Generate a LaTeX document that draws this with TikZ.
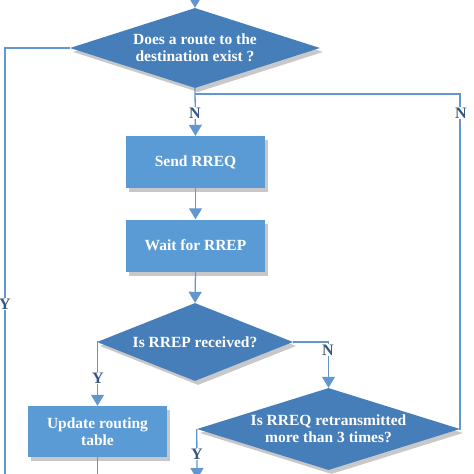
\documentclass[tikz,border=0pt]{standalone}
\usepackage{fontspec}
\setmainfont{Liberation Serif}
\usetikzlibrary{arrows.meta,%
                shapes.geometric}
\definecolor{boxblue}{RGB}{91,155,213}
\definecolor{decblue}{RGB}{70,126,186}
\definecolor{lineblue}{RGB}{98,150,206}
\definecolor{lblblue}{RGB}{55,85,130}
\definecolor{dotgray}{RGB}{200,200,200}

\begin{document}
\begin{tikzpicture}
  [x=1pt,y=-1pt,font=\bfseries\fontsize{15.5}{17}\selectfont,
   castshadow/.style={preaction={fill=dotgray,transform canvas={xshift=3pt,yshift=-4pt}}},
   procbox/.style={rectangle,fill=boxblue,text=white,align=center,
                   minimum width=139pt,minimum height=52pt,castshadow},
   decision/.style={diamond,fill=decblue,text=white,align=center,inner sep=0pt,castshadow},
   link/.style={draw=lineblue,line width=1.3pt},
   flow/.style={link,-{Triangle[width=13pt,length=11pt]}},
   tag/.style={fill=white,text=lblblue,inner sep=1pt,font=\bfseries\fontsize{16}{16}\selectfont}]
  \useasboundingbox (0,0) rectangle (474,474);
  \node[decision,minimum width=250pt,minimum height=80pt,shape aspect=3.1] (route) at (195,48)
    {Does a route to the\\destination exist ?};
  \node[procbox] (send) at (195.5,162) {Send RREQ};
  \node[procbox] (wait) at (195.5,245.5) {Wait for RREP};
  \node[decision,minimum width=196pt,minimum height=78pt,shape aspect=2.5] (recv) at (195,342)
    {Is RREP received?};
  \node[procbox,minimum height=51pt] (update) at (97.5,431.5) {Update routing\\table};
  \node[decision,minimum width=263pt,minimum height=82pt,shape aspect=3.2] (retry) at (328.5,429)
    {Is RREQ retransmitted\\more than 3 times?};
  \coordinate (start) at (195,-6);
  \coordinate (split) at (195,94);
  \coordinate (rtop) at (460,94);
  \coordinate (exitl) at (5,480);
  \coordinate (exitu) at (97.5,480);
  \coordinate (exity) at (197,479);
  \draw[flow] (start) -- (route.north);
  \draw[flow] (route.south) -- (send.north);
  \draw[link] (split) -- (rtop) |- (retry.east);
  \draw[link] (route.west) -| (exitl);
  \foreach \from/\to in {send/wait,wait/recv}
    \draw[flow] (\from.south) -- (\to.north);
  \draw[flow] (recv.east) -| (retry.north);
  \draw[flow] (recv.west) -| (update.north);
  \draw[flow] (retry.west) -- (exity);
  \draw[link] (update.south) -- (exitu);
  \node[tag] (n1) at (195,113) {N};
  \node[tag] (n2) at (461,113) {N};
  \node[tag] (n3) at (328,350) {N};
  \node[tag] (y1) at (5,304) {Y};
  \node[tag] (y2) at (98,378) {Y};
  \node[tag] (y3) at (197,454) {Y};
\end{tikzpicture}
\end{document}
